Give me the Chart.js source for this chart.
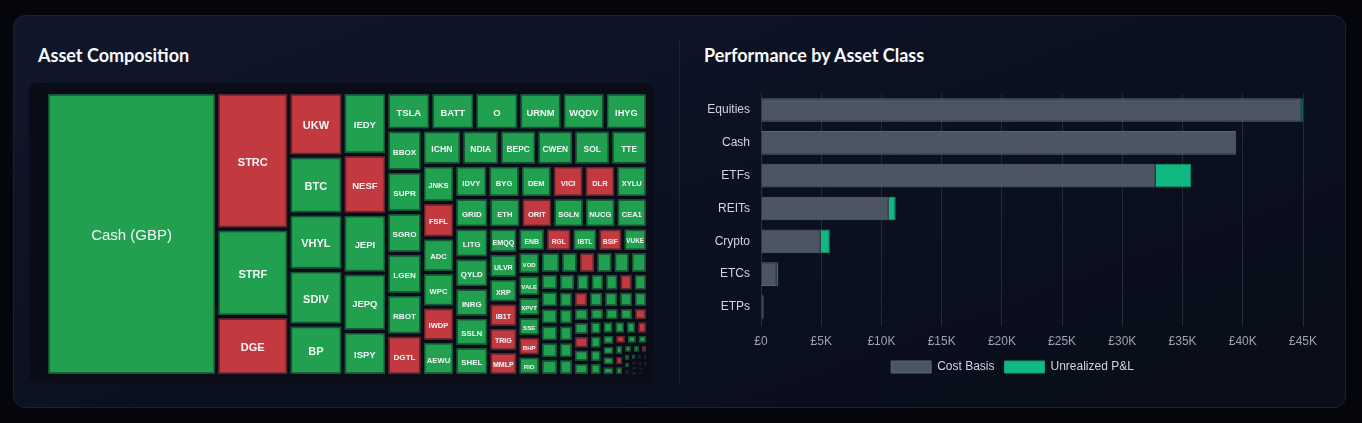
<!DOCTYPE html>
<html>
<head>
<meta charset="utf-8">
<script src="https://cdn.jsdelivr.net/npm/chart.js@4.4.1/dist/chart.umd.min.js"></script>
<style>
  html, body { margin: 0; padding: 0; width: 1362px; height: 423px; overflow: hidden; background: #04060c; }
  .card { position: absolute; left: 13px; top: 15px; width: 1331px; height: 391px; border: 1px solid #1b2131; border-radius: 12px;
          background: linear-gradient(160deg, #10172a 0%, #0b1020 55%, #090d19 100%); }
  .title { position: absolute; top: 45px; line-height: 20px; font-family: Lato, "Open Sans", sans-serif; font-weight: 700; font-size: 18px; color: #f8fafc; }
  .treebox { position: absolute; left: 29px; top: 83px; width: 625px; height: 300px; border-radius: 8px; background: #0a0d17; }
  .divider { position: absolute; left: 679px; top: 40px; width: 1px; height: 343px; background: #1c2230; }
  canvas { position: absolute; }
</style>
</head>
<body>
<div class="card"></div>
<div class="title" style="left:38px">Asset Composition</div>
<div class="treebox"></div>
<canvas id="treemap" width="625" height="300" style="left:29px;top:83px"></canvas>
<div class="divider"></div>
<div class="title" style="left:704px">Performance by Asset Class</div>
<canvas id="performance" width="650" height="305" style="left:690px;top:83px"></canvas>

<script>
// Holdings by market value (£), 1 = in profit, -1 = at a loss, 0 = flat
const holdingNames = [
  "Cash (GBP)", "STRC", "STRF", "DGE", "UKW", "BTC", "VHYL", "SDIV", "BP", "IEDY", "NESF", "JEPI", "JEPQ", "ISPY",
  "TSLA", "BATT", "O", "URNM", "WQDV", "IHYG", "BBOX", "SUPR", "SGRO", "LGEN", "RBOT", "DGTL",
  "ICHN", "NDIA", "BEPC", "CWEN", "SOL", "TTE", "JNKS", "FSFL", "ADC", "WPC", "IWDP", "AEWU",
  "IDVY", "BYG", "DEM", "VICI", "DLR", "XYLU", "GRID", "LITG", "QYLD", "INRG", "SSLN", "SHEL",
  "ETH", "ORIT", "SGLN", "NUCG", "CEA1", "EMQQ", "ULVR", "XRP", "IB1T", "TRIG", "MMLP",
  "ENB", "RGL", "IBTL", "BSIF", "VUKE", "VOD", "VALE", "XPVT", "SSE", "BHP", "RIO"
];
const holdingValues = [
  39458, 8080, 5186, 3479, 2814, 2575, 2486, 2429, 2238, 2228, 2139, 2114, 2088, 1586,
  1353, 1353, 1353, 1331, 1322, 1301, 1204, 1196, 1192, 1188, 1184, 1176,
  1139, 1090, 1073, 1065, 1065, 1063, 995, 942, 922, 917, 913, 909,
  881, 865, 848, 848, 845, 844, 842, 840, 831, 823, 819, 809,
  795, 786, 782, 782, 778, 610, 594, 586, 582, 575, 572,
  537, 516, 504, 489, 479, 426, 406, 369, 365, 363, 360
];
const holdingTrend = [
  1, -1, 1, -1, -1, 1, 1, 1, 1, 1, -1, 1, 1, 1,
  1, 1, 1, 1, 1, 1, 1, 1, 1, 1, 1, -1,
  1, 1, 1, 1, 1, 1, 1, -1, 1, 1, -1, 1,
  1, 1, 1, -1, -1, 1, 1, 1, 1, 1, 1, 1,
  1, -1, 1, 1, 1, 1, 1, 1, -1, -1, -1,
  1, -1, 1, -1, 1, 1, 1, 1, 1, -1, 1
];
// positions too small to carry a label
const smallHoldingValues = [
  360, 315, 311, 310, 307, 307, 256, 254, 252, 251, 250, 249, 249, 211, 210, 209, 208, 208,
  206, 206, 206, 205, 205, 203, 202, 200, 198, 188, 185, 182, 179, 175, 172,
  164, 160, 156, 152, 149, 146, 139, 135, 131, 127, 123, 120, 115, 110, 105, 100, 95, 90,
  85, 80, 75, 70, 64, 58, 52, 46, 42, 38, 35, 33, 31, 30, 29, 28, 27, 26, 25, 24, 23
];
const smallHoldingTrend = [
  1, 1, -1, 1, 1, 1, 1, 1, 1, 1, 1, 1, 1, 1, 1, 1, -1, 1,
  1, 1, 1, 1, 1, -1, 1, 1, 1, 1, 1, 1, -1, 1, 1,
  1, 1, 1, -1, 1, 1, 1, 1, 1, 1, 1, -1, 1, 1, 1, 1, -1, 1,
  1, 1, -1, 1, 1, 1, -1, 1, 1, 0, 1, 0, 0, 0, 0, 0, 0, 0, 0, 0, 0
];

// Performance by asset class (£)
const assetClasses = ["Equities", "Cash", "ETFs", "REITs", "Crypto", "ETCs", "ETPs"];
const costBasis = [44890, 39460, 32760, 10610, 4960, 1300, 220];
const unrealizedPnl = [95, 0, 2960, 570, 750, 130, 0];

const FONT = "'Liberation Sans', Arial, sans-serif";
const GAIN = "#21a050";
const LOSS = "#c23a3f";
const FLAT = "#2a3442";

// squarified layout, rows laid along the short side of what is left
function squarify(items, W, H) {
  const total = items.reduce((s, d) => s + d.value, 0);
  const k = (W * H) / total;
  const worst = (row, len) => {
    let sum = 0, max = 0, min = Infinity;
    row.forEach((d) => { const a = d.value * k; sum += a; max = Math.max(max, a); min = Math.min(min, a); });
    const l2 = len * len, s2 = sum * sum;
    return Math.max((l2 * max) / s2, s2 / (l2 * min));
  };
  const out = [];
  let x = 0, y = 0, w = W, h = H, i = 0;
  while (i < items.length) {
    const len = Math.min(w, h);
    let row = [items[i++]];
    while (i < items.length) {
      const next = row.concat(items[i]);
      if (worst(next, len) <= worst(row, len)) { row = next; i++; } else break;
    }
    const area = row.reduce((s, d) => s + d.value * k, 0);
    if (w >= h) {
      const cw = area / h;
      let yy = y;
      row.forEach((d) => { const ch = (d.value * k) / cw; out.push({ d, x, y: yy, w: cw, h: ch }); yy += ch; });
      x += cw; w -= cw;
    } else {
      const rh = area / w;
      let xx = x;
      row.forEach((d) => { const cw = (d.value * k) / rh; out.push({ d, x: xx, y, w: cw, h: rh }); xx += cw; });
      y += rh; h -= rh;
    }
  }
  return out;
}

function labelFont(ctx, text, w, h) {
  if (!text) return null;
  if (w > 120 && h > 120) return "normal 15px " + FONT;
  let size = Math.min(11, 0.16 * w + 3);
  ctx.font = "bold " + size + "px " + FONT;
  const tw = ctx.measureText(text).width;
  if (tw > w - 3) size = (size * (w - 3)) / tw;
  if (size < 5 || h < size + 4) return null;
  return "bold " + size.toFixed(2) + "px " + FONT;
}

const treemapPlugin = {
  id: "treemapCells",
  afterDatasetsDraw(chart) {
    const { ctx, chartArea, scales } = chart;
    const W = chartArea.right - chartArea.left;
    const H = chartArea.bottom - chartArea.top;
    const items = holdingValues.map((v, i) => ({ value: v, name: holdingNames[i], trend: holdingTrend[i] }))
      .concat(smallHoldingValues.map((v, i) => ({ value: v, name: "", trend: smallHoldingTrend[i] })));
    items.sort((a, b) => b.value - a.value);
    const cells = squarify(items, W, H);
    const gap = 1.75;
    ctx.save();
    cells.forEach((c) => {
      const left = scales.x.getPixelForValue(c.x / W) + gap;
      const right = scales.x.getPixelForValue((c.x + c.w) / W) - gap;
      const top = scales.y.getPixelForValue(c.y / H) + gap;
      const bottom = scales.y.getPixelForValue((c.y + c.h) / H) - gap;
      const w = right - left, h = bottom - top;
      if (w <= 0 || h <= 0) return;
      ctx.fillStyle = c.d.trend > 0 ? GAIN : c.d.trend < 0 ? LOSS : FLAT;
      ctx.fillRect(left, top, w, h);
      ctx.strokeStyle = "rgba(14, 22, 36, 0.55)";
      ctx.lineWidth = 1.5;
      ctx.strokeRect(left + 0.75, top + 0.75, Math.max(w - 1.5, 0), Math.max(h - 1.5, 0));
      const font = labelFont(ctx, c.d.name, w, h);
      if (font) {
        ctx.font = font;
        ctx.fillStyle = "#f4f6f8";
        ctx.textAlign = "center";
        ctx.textBaseline = "middle";
        ctx.fillText(c.d.name, left + w / 2, top + h / 2 + 2);
      }
    });
    ctx.restore();
  },
};

new Chart(document.getElementById("treemap"), {
  type: "scatter",
  data: { datasets: [{ data: [] }] },
  options: {
    responsive: false,
    animation: false,
    devicePixelRatio: 1,
    layout: { padding: { left: 17.5, right: 6.5, top: 9.5, bottom: 7.5 } },
    scales: {
      x: { type: "linear", min: 0, max: 1, display: false },
      y: { type: "linear", min: 0, max: 1, reverse: true, display: false },
    },
    plugins: { legend: { display: false }, tooltip: { enabled: false } },
  },
  plugins: [treemapPlugin],
});

// the legend sits centred under the plot area, not under the whole canvas
const legendOffset = {
  id: "legendOffset",
  afterLayout(chart) {
    if (chart.legend) {
      chart.legend.left += 16;
      chart.legend.right += 16;
    }
  },
};

new Chart(document.getElementById("performance"), {
  type: "bar",
  data: {
    labels: assetClasses,
    datasets: [
      { label: "Cost Basis", data: costBasis, backgroundColor: "#4b5563", borderColor: "#5b6473", borderWidth: 1 },
      { label: "Unrealized P&L", data: unrealizedPnl, backgroundColor: "#10b981", borderColor: "#0f9f72", borderWidth: 1 },
    ],
  },
  options: {
    indexAxis: "y",
    responsive: false,
    animation: false,
    devicePixelRatio: 1,
    layout: { padding: { left: 0, right: 37, top: 10.6, bottom: 5 } },
    scales: {
      x: {
        stacked: true,
        min: 0,
        max: 45000,
        grid: { color: "#252b37", tickLength: 3 },
        border: { display: false },
        ticks: {
          stepSize: 5000,
          padding: 8,
          color: "#9ca3af",
          font: { family: FONT, size: 12 },
          callback: (v) => (v === 0 ? "£0" : "£" + v / 1000 + "K"),
        },
        afterFit: (s) => { s.height = 27.6; },
      },
      y: {
        stacked: true,
        grid: { display: false, drawTicks: true, tickLength: 11 },
        border: { color: "#2a303c" },
        ticks: { padding: 0, color: "#d1d5db", font: { family: FONT, size: 12 } },
        afterFit: (s) => { s.width = 71; },
      },
    },
    plugins: {
      legend: {
        position: "bottom",
        labels: { color: "#d1d5db", boxWidth: 40, boxHeight: 12, font: { family: FONT, size: 12 } },
      },
      tooltip: { enabled: false },
    },
  },
  plugins: [legendOffset],
});
</script>
</body>
</html>
